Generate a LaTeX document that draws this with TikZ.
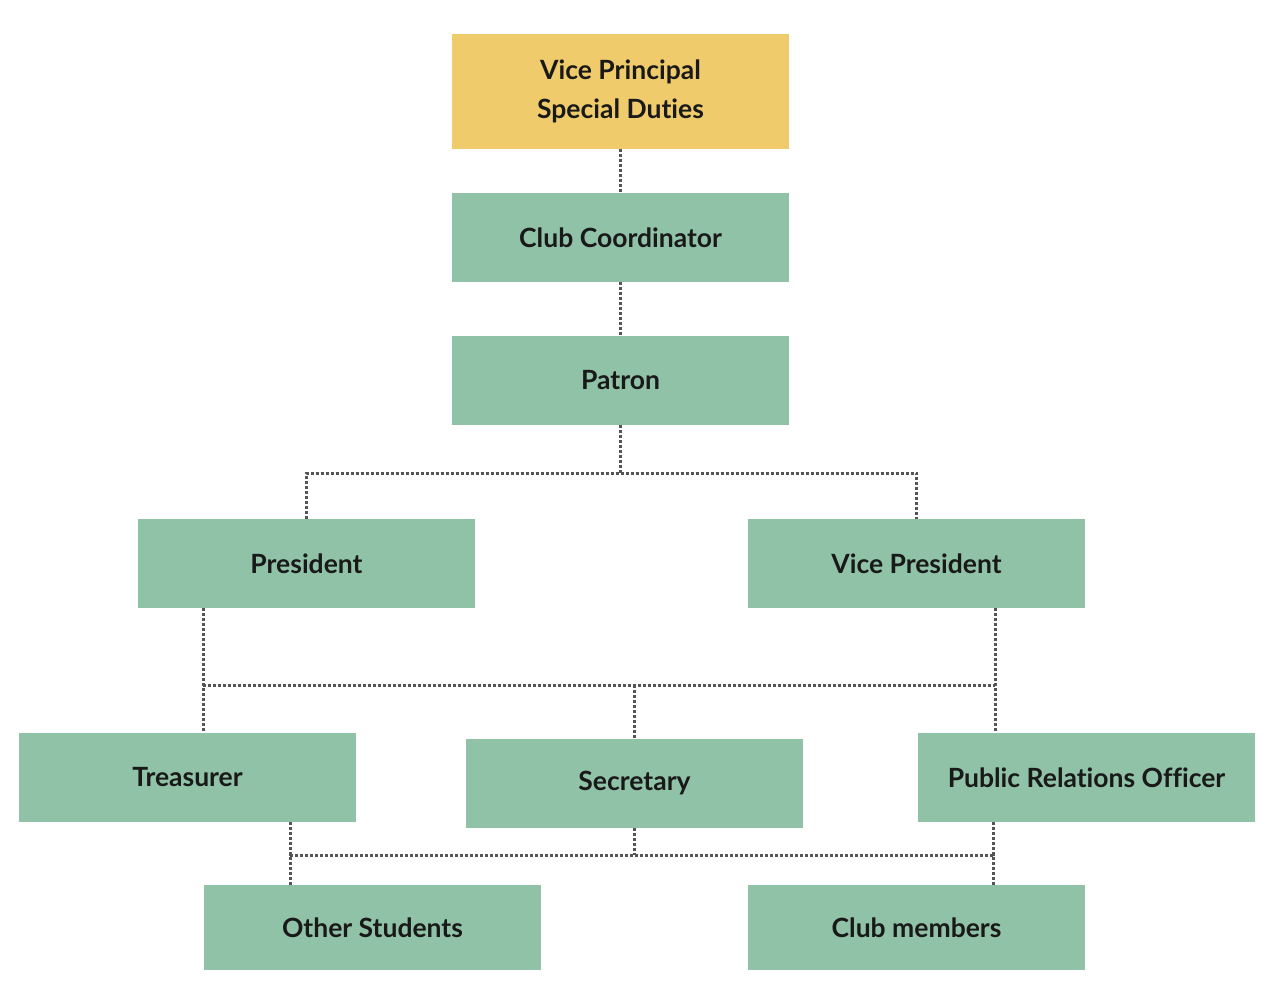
\documentclass[tikz,border=0pt]{standalone}
\usepackage{fontspec}
\setmainfont{Lato}[Ligatures={NoCommon}]
\begin{document}
\begin{tikzpicture}[x=1pt,y=-1pt,
  box/.style={rectangle, fill=boxgreen, minimum width=337pt, minimum height=89pt, inner sep=0pt,
    align=center, font=\fontsize{26.5}{39}\selectfont\bfseries, text=black!90},
  conn/.style={draw=linegray, line width=3pt, dash pattern=on 3pt off 2pt}]
\definecolor{boxgreen}{RGB}{143,194,167}
\definecolor{boxyellow}{RGB}{239,203,107}
\definecolor{linegray}{RGB}{85,85,85}
\useasboundingbox[fill=white] (0,0) rectangle (1280,1000);

\node[box, fill=boxyellow, minimum height=115pt] (vps) at (620.5,91.5) {Vice Principal\\Special Duties};
\node[box] (cc) at (620.5,237.5) {Club Coordinator};
\node[box] (pat) at (620.5,380.5) {Patron};
\node[box] (pres) at (306.5,563.5) {President};
\node[box] (vpres) at (916.5,563.5) {Vice President};
\node[box] (tre) at (187.5,777.5) {Treasurer};
\node[box] (sec) at (634.5,783.5) {Secretary};
\node[box] (pro) at (1086.5,777.5) {Public Relations Officer};
\node[box, minimum height=85pt] (oth) at (372.5,927.5) {Other Students};
\node[box, minimum height=85pt] (cm) at (916.5,927.5) {Club members};

\coordinate (j1) at (620.5,473);
\coordinate (pL) at (203,685);
\coordinate (pR) at (995,685);
\coordinate (sT) at (634.5,685);
\coordinate (qL) at (290,855);
\coordinate (qR) at (993,855);
\coordinate (qS) at (634.5,855);

\draw[conn] (vps.south) -- (cc.north);
\draw[conn] (cc.south) -- (pat.north);
\draw[conn] (pat.south) -- (j1);
\draw[conn] (pres.north) |- (j1) -| (vpres.north);

\draw[conn] (pres.south -| pL) -- (pL) -- (tre.north -| pL);
\draw[conn] (vpres.south -| pR) -- (pR) -- (pro.north -| pR);
\draw[conn] (pL) -- (pR);
\draw[conn] (sT) -- (sec.north -| sT);

\draw[conn] (tre.south -| qL) -- (qL) -- (oth.north -| qL);
\draw[conn] (pro.south -| qR) -- (qR) -- (cm.north -| qR);
\draw[conn] (qL) -- (qR);
\draw[conn] (sec.south -| qS) -- (qS);
\end{tikzpicture}
\end{document}
